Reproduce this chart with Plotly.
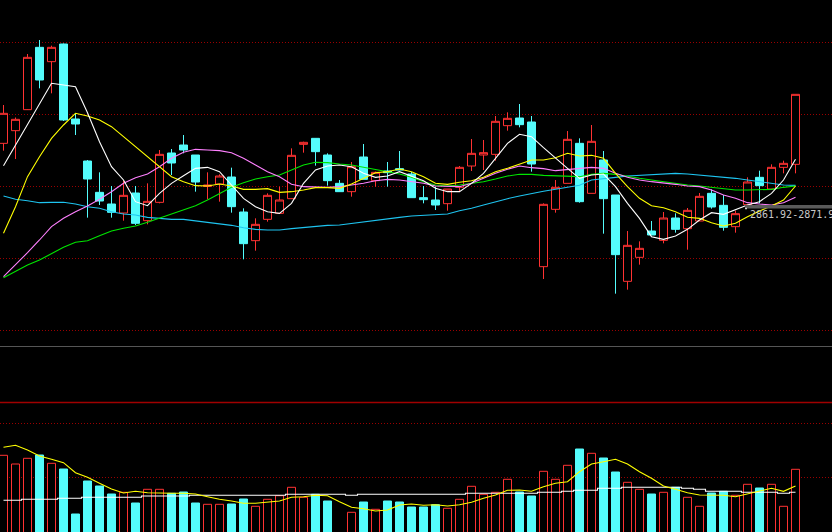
import plotly.graph_objects as go

# ---------------- data ----------------
idx = list(range(67))

open_ = [3070, 3108, 3171, 3358, 3315, 3368, 3143, 3017, 2923, 2888,
         2861, 2921, 2838, 2893, 3041, 3065, 3035, 2940.5, 2948, 2969,
         2864, 2778, 2842, 2860, 2904, 3067, 3085, 3035, 2950, 2925,
         3029, 2958, 2987, 2994, 2978, 2907, 2900, 2889, 2938, 3002,
         3035, 3037, 3123, 3146, 3134, 2700, 2872, 2950, 3070, 2920,
         3020, 2915, 2656, 2728, 2807, 2779, 2846, 2814, 2837, 2920,
         2884, 2820, 2886, 2968, 2933, 2998, 3007]
high = [3185, 3147.5, 3338, 3380, 3363, 3369.5, 3160, 3020, 2983, 2942,
        2958, 2942, 2950, 3050, 3053, 3095, 3035, 2983, 2977, 2997,
        2875, 2845, 2920, 2940, 3055, 3075, 3085, 3040, 2960, 3014,
        3068, 2985, 3014, 3047, 2984, 2942, 2940, 2933, 3002, 3083,
        3080, 3152, 3163, 3188, 3152, 2890, 2960, 3107, 3085, 3125,
        3047, 2915, 2807, 2776, 2837, 2864, 2860, 2876, 2921, 2932,
        2915, 2868, 2968, 2988, 3007, 3018, 3217]
low = [3048, 3023, 3170, 3235, 3220, 3137, 3095, 2847, 2885, 2847,
       2838, 2825, 2827, 2890, 2975, 3040, 2925, 2902, 2895, 2862,
       2722, 2748, 2835, 2858, 2903, 3042, 3003, 2943, 2925, 2910,
       2962, 2940, 2940, 2990, 2907, 2890, 2870, 2868, 2925, 2987,
       2990, 3018, 3108, 3118, 2985, 2663, 2862, 2950, 2892, 2920,
       2799, 2619, 2631, 2706, 2795, 2770, 2802, 2751, 2837, 2874,
       2808, 2802, 2886, 2890, 2933, 2980, 2980]
close = [3160, 3142, 3328, 3260, 3358, 3140, 3128, 2963, 2897, 2863,
         2914, 2830, 2896, 3037, 3011, 3050, 2954, 2945, 2972, 2880,
         2769, 2827, 2914, 2900, 3034, 3073, 3045, 2958, 2925, 3000,
         2962, 2983, 2982, 2990, 2907, 2901, 2885, 2933, 2998, 3040,
         3042, 3136, 3145, 3126, 3008, 2887, 2938, 3082, 2895, 3076,
         2904, 2736, 2764, 2755, 2795, 2846, 2812, 2869, 2911, 2879,
         2818, 2859, 2954, 2943, 2998, 3010, 3217]

ma5 = [3003, 3065, 3126, 3188, 3250, 3245, 3240, 3162, 3075, 3000,
       2960, 2895, 2883, 2920, 2950, 2973, 2995, 2998, 2985, 2945,
       2905, 2880, 2865, 2860, 2890, 2950, 2990, 3002, 3005, 3000,
       2980, 2968, 2972, 2985, 2972, 2958, 2935, 2925, 2925, 2950,
       2980, 3025, 3070, 3097, 3090, 3057, 3025, 2995, 2965, 2975,
       2978, 2940, 2890, 2845, 2790, 2782, 2792, 2812, 2840, 2862,
       2857, 2870, 2885, 2895, 2920, 2960, 3022]
ma10 = [2800, 2880, 2970, 3030, 3085, 3125, 3160, 3152, 3140, 3120,
        3090, 3060, 3030, 3000, 2970, 2955, 2943, 2942, 2948, 2942,
        2932, 2932, 2934, 2923, 2925, 2930, 2937, 2937, 2935, 2948,
        2965, 2982, 2985, 2993, 2985, 2970, 2950, 2947, 2953, 2958,
        2968, 2985, 2995, 3008, 3020, 3020, 3027, 3040, 3032, 3034,
        3025, 2980, 2940, 2905, 2883, 2877, 2865, 2848, 2845, 2832,
        2822, 2830, 2850, 2867, 2882, 2900, 2942]
ma20 = [2670, 2705, 2742, 2780, 2820, 2845, 2865, 2882, 2902, 2925,
        2950, 2967, 2978, 3000, 3025, 3043, 3052, 3050, 3048, 3042,
        3025, 3005, 2985, 2970, 2947, 2940, 2938, 2938, 2940, 2945,
        2950, 2958, 2962, 2960, 2955, 2950, 2942, 2940, 2940, 2950,
        2965, 2980, 2992, 3002, 2997, 2994, 2988, 2992, 2995, 2998,
        2995, 2980, 2968, 2960, 2955, 2952, 2947, 2942, 2940, 2930,
        2915, 2905, 2892, 2888, 2885, 2892, 2908]
ma30 = [2667, 2685, 2705, 2720, 2740, 2758, 2773, 2778, 2793, 2807,
        2815, 2822, 2833, 2845, 2857, 2870, 2883, 2900, 2920, 2938,
        2952, 2963, 2970, 2975, 2990, 3005, 3013, 3012, 3008, 3005,
        2998, 2992, 2985, 2978, 2968, 2955, 2945, 2942, 2945, 2950,
        2955, 2963, 2972, 2977, 2977, 2974, 2972, 2970, 2970, 2977,
        2980, 2977, 2970, 2965, 2960, 2955, 2948, 2945, 2942, 2938,
        2932, 2930, 2930, 2930, 2932, 2938, 2942]
ma60 = [2912, 2902, 2898, 2892, 2893, 2893, 2888, 2880, 2875, 2865,
        2858, 2855, 2848, 2845, 2842, 2842, 2838, 2834, 2830, 2824,
        2817, 2812, 2810, 2810, 2814, 2818, 2822, 2824, 2825, 2830,
        2834, 2840, 2844, 2848, 2852, 2854, 2857, 2858, 2868, 2875,
        2885, 2895, 2904, 2912, 2920, 2926, 2932, 2938, 2944, 2960,
        2965, 2968, 2972, 2974, 2977, 2980, 2980, 2978, 2975, 2972,
        2968, 2965, 2960, 2955, 2950, 2945, 2944]

volume = [1447, 1360, 1417, 1450, 1367, 1310, 860, 1190, 1140, 1060,
          1077, 970, 1107, 1107, 1067, 1080, 970, 957, 957, 960,
          1010, 937, 1007, 1043, 1127, 1027, 1057, 990, 620, 877,
          980, 907, 990, 980, 930, 930, 953, 917, 1007, 1137,
          1057, 1077, 1207, 1080, 1040, 1287, 1207, 1347, 1510, 1467,
          1420, 1280, 1177, 1107, 1060, 1077, 1127, 1027, 937, 1070,
          1087, 1047, 1157, 1120, 1157, 937, 1307]
vol_ma5 = [1527, 1547, 1500, 1440, 1407, 1373, 1273, 1227, 1167, 1110,
           1070, 1087, 1073, 1067, 1067, 1067, 1060, 1033, 1007, 990,
           967, 967, 977, 990, 1027, 1033, 1047, 1043, 983, 927,
           913, 890, 900, 950, 960, 947, 953, 940, 953, 977,
           1017, 1050, 1097, 1100, 1087, 1133, 1167, 1183, 1283, 1360,
           1383, 1407, 1360, 1283, 1217, 1140, 1107, 1073, 1050, 1047,
           1047, 1033, 1060, 1093, 1117, 1087, 1140]
vol_ma10 = [997, 997, 1007, 1007, 1007, 1017, 1017, 1027, 1027, 1027,
            1027, 1027, 1040, 1040, 1040, 1040, 1047, 1047, 1047, 1047,
            1047, 1047, 1047, 1047, 1057, 1057, 1057, 1057, 1057, 1047,
            1057, 1057, 1057, 1057, 1057, 1057, 1057, 1057, 1057, 1067,
            1067, 1067, 1067, 1067, 1067, 1077, 1077, 1087, 1097, 1097,
            1117, 1117, 1127, 1127, 1127, 1127, 1127, 1117, 1107, 1087,
            1087, 1087, 1077, 1077, 1077, 1067, 1077]

price_grid = [3372.5, 3156.5, 2940.5, 2724.5, 2508.5]
price_floor = 2460.5
vol_top = 1975
vol_grid = [1765, 1225]
range_label = "2861.92-2871.92"

# ---------------- style ----------------
BG = "#000000"
RED = "#ff3232"
CYAN = "#54fcfc"
C_MA5 = "#ffffff"
C_MA10 = "#ffff00"
C_MA20 = "#ff80ff"
C_MA30 = "#00e600"
C_MA60 = "#1ec4f0"

fig = go.Figure()

fig.add_trace(go.Candlestick(
    x=idx, open=open_, high=high, low=low, close=close,
    increasing=dict(line=dict(color=RED, width=1), fillcolor=BG),
    decreasing=dict(line=dict(color=CYAN, width=1), fillcolor=CYAN),
    whiskerwidth=0, hoverinfo="skip", showlegend=False,
))

for vals, col in [(ma60, C_MA60), (ma30, C_MA30), (ma20, C_MA20),
                  (ma10, C_MA10), (ma5, C_MA5)]:
    fig.add_trace(go.Scatter(x=idx, y=vals, mode="lines",
                             line=dict(color=col, width=1.1),
                             hoverinfo="skip", showlegend=False))

up = [c > o for o, c in zip(open_, close)]
fig.add_trace(go.Bar(
    x=idx, y=volume, yaxis="y2", width=2 / 3,
    marker=dict(color=[BG if u else CYAN for u in up],
                line=dict(color=[RED if u else CYAN for u in up], width=1)),
    hoverinfo="skip", showlegend=False,
))
fig.add_trace(go.Scatter(x=idx, y=vol_ma10, yaxis="y2", mode="lines",
                         line=dict(color="#ffffff", width=1.1, shape="hvh"),
                         hoverinfo="skip", showlegend=False))
fig.add_trace(go.Scatter(x=idx, y=vol_ma5, yaxis="y2", mode="lines",
                         line=dict(color="#ffff00", width=1.1),
                         hoverinfo="skip", showlegend=False))

shapes = []
for g in price_grid:
    shapes.append(dict(type="line", xref="paper", x0=0, x1=1, yref="y", y0=g, y1=g,
                       line=dict(color="#9a0000", width=1, dash="1px,2px"), layer="below"))
shapes.append(dict(type="line", xref="paper", x0=0, x1=1, yref="y", y0=price_floor, y1=price_floor,
                   line=dict(color="#555555", width=1), layer="below"))
shapes.append(dict(type="line", xref="paper", x0=0, x1=1, yref="y2", y0=vol_top, y1=vol_top,
                   line=dict(color="#a00000", width=1.5), layer="below"))
for g in vol_grid:
    shapes.append(dict(type="line", xref="paper", x0=0, x1=1, yref="y2", y0=g, y1=g,
                       line=dict(color="#9a0000", width=1, dash="1px,2px"), layer="below"))
# price-range cursor bar
shapes.append(dict(type="rect", xref="paper", x0=745 / 832, x1=1, yref="y", y0=2874.5, y1=2885,
                   fillcolor="#5a5a5a", line=dict(width=0), layer="above"))
shapes.append(dict(type="rect", xref="paper", x0=745 / 832, x1=747 / 832, yref="y", y0=2872, y1=2876.5,
                   fillcolor="#cccccc", line=dict(width=0), layer="above"))

fig.update_layout(
    width=832, height=532,
    margin=dict(l=0, r=0, t=0, b=0),
    paper_bgcolor=BG, plot_bgcolor=BG,
    showlegend=False,
    boxgap=1 / 3, boxgroupgap=0,
    xaxis=dict(range=[-0.29167, 69.04167], visible=False, fixedrange=True,
               rangeslider=dict(visible=False)),
    yaxis=dict(range=[1904, 3500], visible=False, fixedrange=True),
    yaxis2=dict(range=[680, 6000], overlaying="y", visible=False, fixedrange=True),
    shapes=shapes,
    annotations=[dict(text=range_label, xref="paper", x=748 / 832, xanchor="left",
                      yref="y", y=2856, yanchor="middle", showarrow=False,
                      font=dict(family="DejaVu Sans Mono", size=10, color="#c8c8c8"))],
)

fig.write_html("out.html", config=dict(displayModeBar=False))
